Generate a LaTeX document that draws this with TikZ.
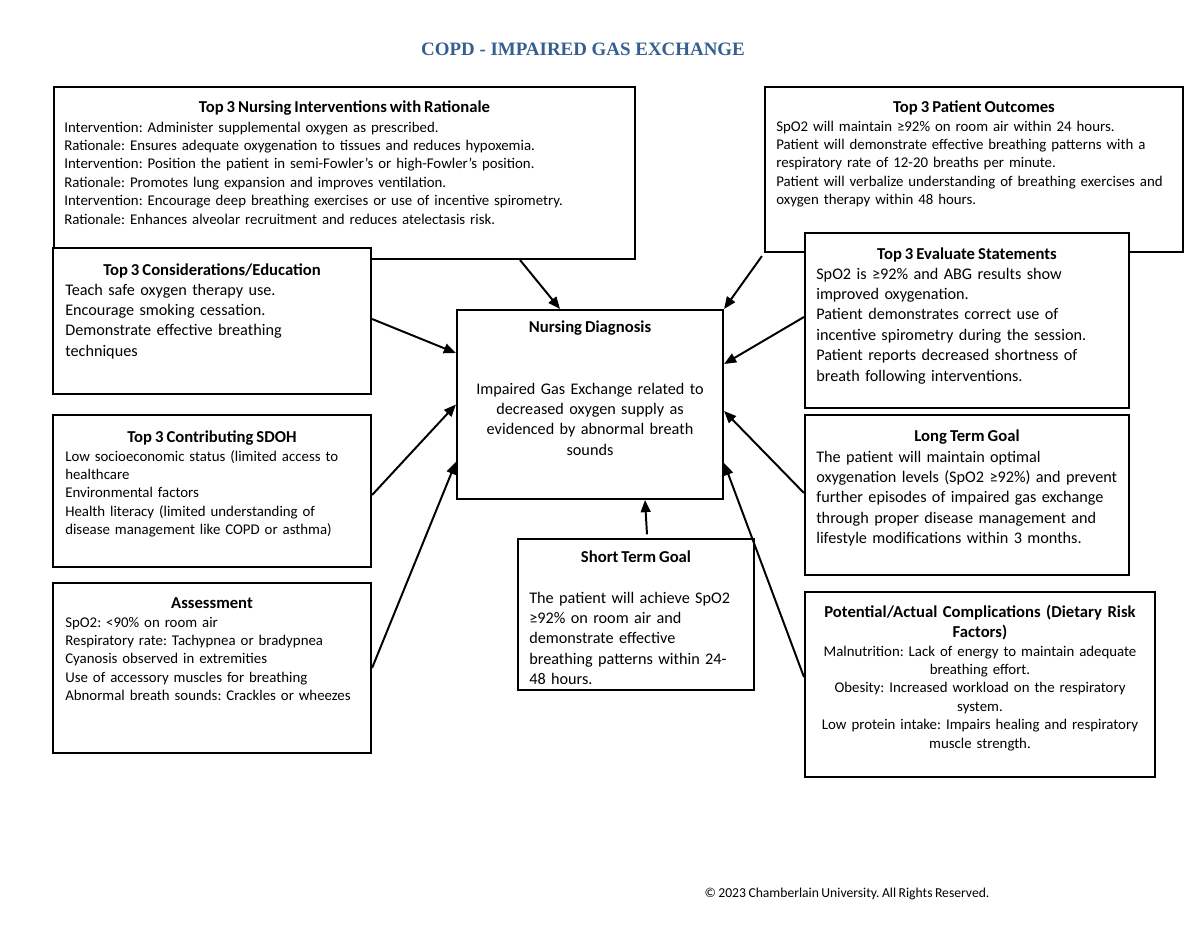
\documentclass[tikz,border=0pt]{standalone}
\usepackage{fontspec}
\setmainfont{Carlito}[WordSpace=0.8]
\newfontfamily\titlefont{Liberation Serif}
\usetikzlibrary{arrows.meta}
\definecolor{titleblue}{RGB}{54,95,145}
\frenchspacing
\begin{document}
\begin{tikzpicture}[x=0.66pt,y=-0.66pt,
 box/.style={draw,line width=1.4pt,fill=white,inner sep=0pt},
 hd/.style={font=\fontsize{11}{13.5}\selectfont\bfseries,anchor=base,inner sep=0pt},
 sm/.style={font=\fontsize{9.8}{12.2}\selectfont,anchor=base west,inner sep=0pt,align=left},
 lg/.style={font=\fontsize{10.7}{13.5}\selectfont,anchor=base west,inner sep=0pt,align=left},
 arr/.style={-{Triangle[length=8pt,width=6.5pt]},line width=1.3pt}]
 \fill[white] (0,0) rectangle (1200,927);
 \useasboundingbox (0,0) rectangle (1200,927); %枠
 \node[anchor=base,inner sep=0pt,font=\titlefont\fontsize{12.5}{14}\selectfont\bfseries,text=titleblue] (title) at (583,55) {COPD - IMPAIRED GAS EXCHANGE}; %タイトル

 \node[box,minimum width=383.5pt,minimum height=113.5pt] (interv) at (344.5,173) {}; %介入
 \node[hd] (interv-h) at (344.5,112) {Top 3 Nursing Interventions with Rationale};
 \node[sm,text width=375pt] (interv-t) at (64,132) {Intervention: Administer supplemental oxygen as prescribed.\\
  Rationale: Ensures adequate oxygenation to tissues and reduces hypoxemia.\\
  Intervention: Position the patient in semi-Fowler’s or high-Fowler’s position.\\
  Rationale: Promotes lung expansion and improves ventilation.\\
  Intervention: Encourage deep breathing exercises or use of incentive spirometry.\\
  Rationale: Enhances alveolar recruitment and reduces atelectasis risk.};

 \node[box,minimum width=275.9pt,minimum height=108.9pt] (outc) at (974,169.5) {}; %成果
 \node[hd] (outc-h) at (974,112) {Top 3 Patient Outcomes};
 \node[sm,text width=268pt] (outc-t) at (776,131) {SpO2 will maintain ≥92\% on room air within 24 hours.\\
  Patient will demonstrate effective breathing patterns with a\\
  respiratory rate of 12-20 breaths per minute.\\
  Patient will verbalize understanding of breathing exercises and\\
  oxygen therapy within 48 hours.};

 \node[box,minimum width=209.9pt,minimum height=96.4pt] (consid) at (212,321) {}; %教育
 \node[hd] (consid-h) at (212,275) {Top 3 Considerations/Education};
 \node[lg,text width=200pt] (consid-t) at (65,295) {Teach safe oxygen therapy use.\\
  Encourage smoking cessation.\\
  Demonstrate effective breathing\\
  techniques};

 \node[box,minimum width=213.8pt,minimum height=115.5pt] (evalu) at (967,320.5) {}; %評価
 \node[hd] (evalu-h) at (967,259) {Top 3 Evaluate Statements};
 \node[lg,text width=205pt] (evalu-t) at (816,279) {SpO2 is ≥92\% and ABG results show\\
  improved oxygenation.\\
  Patient demonstrates correct use of\\
  incentive spirometry during the session.\\
  Patient reports decreased shortness of\\
  breath following interventions.};

 \node[box,minimum width=175.6pt,minimum height=124.7pt] (diag) at (590,404.5) {}; %看護診断
 \node[hd] (diag-h) at (590,332) {Nursing Diagnosis};
 \node[lg,anchor=base,align=center,text width=170pt] (diag-t) at (590,394) {Impaired Gas Exchange related to\\
  decreased oxygen supply as\\
  evidenced by abnormal breath\\
  sounds};

 \node[box,minimum width=209.9pt,minimum height=100.3pt] (sdoh) at (212,491) {}; %SDOH
 \node[hd] (sdoh-h) at (212,442) {Top 3 Contributing SDOH};
 \node[sm,text width=200pt] (sdoh-t) at (65,461) {Low socioeconomic status (limited access to\\
  healthcare\\
  Environmental factors\\
  Health literacy (limited understanding of\\
  disease management like COPD or asthma)};

 \node[box,minimum width=213.8pt,minimum height=105.6pt] (ltg) at (967,495) {}; %長期目標
 \node[hd] (ltg-h) at (967,441) {Long Term Goal};
 \node[lg,text width=205pt] (ltg-t) at (816,462) {The patient will maintain optimal\\
  oxygenation levels (SpO2 ≥92\%) and prevent\\
  further episodes of impaired gas exchange\\
  through proper disease management and\\
  lifestyle modifications within 3 months.};

 \node[box,line width=0.8pt,minimum width=155.8pt,minimum height=99.7pt] (stg) at (636,614.5) {}; %短期目標
 \node[hd] (stg-h) at (636,562) {Short Term Goal};
 \node[lg,text width=148pt] (stg-t) at (529,603) {The patient will achieve SpO2\\
  ≥92\% on room air and\\
  demonstrate effective\\
  breathing patterns within 24-\\
  48 hours.};

 \node[box,minimum width=209.9pt,minimum height=112.2pt] (assess) at (212,668) {}; %アセスメント
 \node[hd] (assess-h) at (212,608) {Assessment};
 \node[sm,text width=200pt] (assess-t) at (65,627) {SpO2: <90\% on room air\\
  Respiratory rate: Tachypnea or bradypnea\\
  Cyanosis observed in extremities\\
  Use of accessory muscles for breathing\\
  Abnormal breath sounds: Crackles or wheezes};

 \node[box,minimum width=231pt,minimum height=122.1pt] (compl) at (980,684.5) {}; %合併症
 \node[hd,align=center,text width=225pt] (compl-h) at (980,617) {Potential/Actual Complications (Dietary Risk\\ Factors)};
 \node[sm,anchor=base,align=center,text width=225pt] (compl-t) at (980,656) {Malnutrition: Lack of energy to maintain adequate\\
  breathing effort.\\
  Obesity: Increased workload on the respiratory\\
  system.\\
  Low protein intake: Impairs healing and respiratory\\
  muscle strength.};

 \node[anchor=base,inner sep=0pt,font=\fontsize{9}{11}\selectfont] (copy) at (847,897) {© 2023 Chamberlain University. All Rights Reserved.}; %著作権

 \draw[arr] ([shift={(175.5,0)}]interv.south)--([shift={(-30,0)}]diag.north);
 \draw[arr] ([shift={(-2,3)}]outc.south west)--(diag.north east);
 \draw[arr] ([shift={(0,-2)}]consid.east)--([shift={(0,-51.5)}]diag.west);
 \draw[arr] ([shift={(0,-3.5)}]evalu.west)--([shift={(0,-40.5)}]diag.east);
 \draw[arr] ([shift={(0,4)}]sdoh.east)--(diag.west);
 \draw[arr] ([shift={(0,-2)}]ltg.west)--([shift={(0,6.5)}]diag.east);
 \draw[arr] (assess.east)--([shift={(0,57.5)}]diag.west);
 \draw[arr] ([shift={(0,-7.5)}]compl.west)--([shift={(0,58.5)}]diag.east);
 \draw[arr] ([shift={(11,-4)}]stg.north)--([shift={(55,0)}]diag.south);
\end{tikzpicture}
\end{document}
